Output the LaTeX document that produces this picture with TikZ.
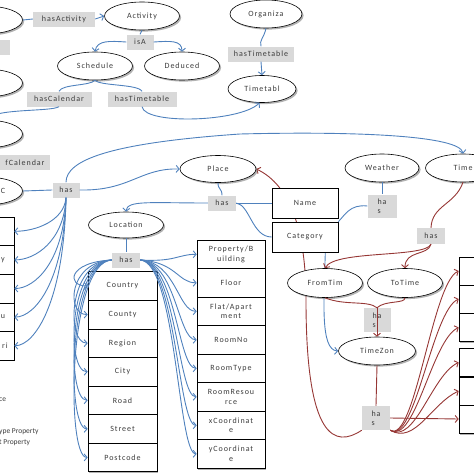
\documentclass[tikz,border=0pt]{standalone}
\usepackage{fontspec}
\setmainfont{Carlito}
\newfontfamily\spacedfont[LetterSpace=12]{Carlito}
\usepackage{tikz}
\usepackage{xcolor}
\usetikzlibrary{arrows.meta,backgrounds,shadows,shapes.geometric}
\definecolor{linkblue}{RGB}{79,129,189}
\definecolor{linkred}{RGB}{150,55,53}
\definecolor{labelgray}{RGB}{217,217,217}
\definecolor{inkgray}{RGB}{60,60,60}

\begin{document}
\begin{tikzpicture}[x=1pt,y=-1pt,font=\spacedfont\fontsize{8}{9.5}\selectfont,
	every node/.style={text=inkgray,align=center},
	class/.style={ellipse,draw,line width=0.6pt,fill=white,minimum width=75,minimum height=28,inner sep=0pt,drop shadow={shadow xshift=1.6pt,shadow yshift=-1.6pt,fill=black!60}},
	field/.style={rectangle,draw,line width=0.6pt,fill=white,minimum width=68,minimum height=28.6,inner sep=0pt,drop shadow={shadow xshift=1.4pt,shadow yshift=-1.4pt,fill=black!60}},
	prop/.style={fill=labelgray,minimum height=15,inner sep=0pt},
	bluelink/.style={draw=linkblue,line width=0.9pt},
	redlink/.style={draw=linkred,line width=0.9pt},
	tip/.style={-{Straight Barb[length=3pt,width=7pt]}}]
	\useasboundingbox (0,0) rectangle (474,474);
	\clip (0,0) rectangle (474,474);

	\node[class] (actor) at (-15,20) {};
	\node[prop,minimum width=60] (cutLabel) at (-20,47) {};
	\node[class] (rule) at (-15,83) {};
	\node[class] (calendar) at (-15,134) {};
	\node[prop,minimum width=50] (ofCalendar) at (25,162.5) {fCalendar};
	\node[class] (cal) at (-15,191) {};
	\node (calText) at (3,191) {C};

	\node[class] (Activity) at (142,16) {Activity};
	\node[prop,minimum width=62] (hasActivity) at (64,19) {hasActivity};
	\node[prop,minimum width=27] (isA) at (140,42) {isA};
	\node[class] (Schedule) at (95,66) {Schedule};
	\node[class] (Deduced) at (182,66) {Deduced};
	\node[prop,minimum width=65] (hasCalendar) at (59,99) {hasCalendar};
	\node[prop,minimum width=69] (hasTimetable) at (142,99) {hasTimetable};
	\node[class,minimum width=72] (Organiza) at (266,14) {Organiza};
	\node[prop,minimum width=66] (orgTimetable) at (261,54) {hasTimetable};
	\node[class,minimum width=68,minimum height=27] (Timetabl) at (262,89) {Timetabl};

	\node[prop,minimum width=27] (leftHas) at (66,190) {has};
	\foreach \i in {1,...,5}
		\node[field,minimum width=74] (lc\i) at (-23,{231.3+(\i-1)*28.6}) {};
	\node (lcTextA) at (3,260) {y};
	\node (lcTextB) at (3,317) {u};
	\node (lcTextC) at (5,346) {ri};

	\node[class,minimum width=76,minimum height=27] (Place) at (218,169) {Place};
	\node[prop,minimum width=28] (placeHas) at (222,203) {has};
	\node[field,minimum width=66,minimum height=30] (Name) at (305,203) {Name};
	\node[field,minimum width=66,minimum height=30] (Category) at (305,237) {Category};
	\node[class,minimum height=26] (Location) at (126,225) {Location};
	\node[prop,minimum width=28] (locHas) at (126,260) {has};
	\foreach \name [count=\i] in {Country,County,Region,City,Road,Street,Postcode}
		\node[field,minimum width=69] (loc\i) at (122.5,{286+(\i-1)*28.57}) {\name};
	\foreach \name [count=\i] in {{Property/B\\uilding},Floor,{Flat/Apart\\ment},RoomNo,RoomType,{RoomResou\\rce},{xCoordinat\\e},{yCoordinat\\e}}
		\node[field] (prop\i) at (231,{254.3+(\i-1)*28.5}) {\name};

	\node[class,minimum width=74] (Weather) at (382,168) {Weather};
	\node[prop,minimum width=29,minimum height=23,align=left] (weatherHas) at (382,206) {ha\\s};
	\node[class] (Time) at (463,168) {Time};
	\node[prop,minimum width=28,minimum height=16] (timeHas) at (431,236) {has};
	\node[class,minimum height=29] (FromTim) at (325,283) {FromTim};
	\node[class,minimum height=29] (ToTime) at (405,283) {ToTime};
	\node[prop,minimum width=27,minimum height=24,align=left] (tzHas) at (377,320) {ha\\s};
	\node[class,minimum width=77] (TimeZon) at (377,351) {TimeZon};
	\node[prop,minimum width=28,minimum height=24,align=left] (zoneHas) at (376,418) {ha\\s};
	\foreach \y [count=\i] in {271,299,327.5,362.5,391,419}
		\node[field,minimum width=74,minimum height=28.3] (rc\i) at (496,\y) {};

	\node[font=\rmfamily\fontsize{7.5}{8}\selectfont,anchor=west,inner sep=0pt] (legendA) at (-1,400) {ce};
	\node[font=\rmfamily\fontsize{7.5}{8}\selectfont,anchor=west,inner sep=0pt] (legendB) at (-1,432) {ype Property};
	\node[font=\rmfamily\fontsize{7.5}{8}\selectfont,anchor=west,inner sep=0pt] (legendC) at (-1,443) {t Property};

	\draw[bluelink] (actor.east) -- (hasActivity.west);
	\draw[bluelink,tip] (hasActivity.east) -- (Activity.west);
	\draw[bluelink] (Activity.south) -- (isA.north);
	\draw[bluelink,tip] (isA.west) .. controls (110,41) and (97,40) .. (Schedule.north);
	\draw[bluelink,tip] (isA.east) .. controls (170,41) and (182,40) .. (Deduced.north);
	\draw[bluelink] (Schedule.south) .. controls (90,86) and (62,84) .. (hasCalendar.north);
	\draw[bluelink] (hasCalendar.south) .. controls (50,112) and (-5,108) .. (calendar.north);
	\draw[bluelink] (Schedule.south) .. controls (100,86) and (138,84) .. (hasTimetable.north);
	\draw[bluelink,tip] (hasTimetable.south) .. controls (145,125) and (240,122) .. (Timetabl.260);
	\draw[bluelink] (Organiza.south) .. controls (264,38) and (259,40) .. (orgTimetable.north);
	\draw[bluelink,tip] (orgTimetable.south) -- (Timetabl.north);

	\draw[bluelink] (cal.east) -- (leftHas.west);
	\draw[bluelink,tip] (leftHas.east) .. controls (130,191) and (140,168) .. (Place.west);
	\draw[bluelink,tip] (leftHas.north) .. controls (66,160) and (110,143) .. (240,134) .. controls (360,131) and (460,136) .. (Time.north);
	\foreach \i in {1,...,5}
		\draw[bluelink,tip] (leftHas.south) .. controls (64,{198+0.7*(33.3+(\i-1)*28.6)}) and (35,{231.3+(\i-1)*28.6}) .. (lc\i.east);

	\draw[bluelink] (Place.south) .. controls (218,190) and (222,188) .. (placeHas.north);
	\draw[bluelink,tip] (placeHas.west) .. controls (150,203) and (127,200) .. (Location.north);
	\draw[bluelink] (placeHas.east) -- (Name.west);
	\draw[bluelink] (placeHas.east) .. controls (250,205) and (252,237) .. (Category.west);
	\draw[bluelink] (Location.south) -- (locHas.north);
	\foreach \i in {1,...,7}
		\draw[bluelink,tip] (locHas.west) .. controls (68,262) and (66,{286+(\i-1)*28.57}) .. (loc\i.west);
	\foreach \i in {1,...,8}
		\draw[bluelink,tip] (locHas.east) .. controls (176,262) and (178,{254.3+(\i-1)*28.5}) .. (prop\i.west);

	\draw[bluelink] (Weather.south) -- (weatherHas.north);
	\draw[bluelink] (weatherHas.west) .. controls (350,204) and (345,215) .. (Category.north east);
	\draw[redlink] (Time.south) .. controls (455,205) and (432,205) .. (timeHas.north);
	\draw[redlink,tip] (timeHas.south) .. controls (425,258) and (335,250) .. (FromTim.north);
	\draw[redlink,tip] (timeHas.south) .. controls (428,256) and (405,250) .. (ToTime.north);
	\draw[redlink] (FromTim.south) .. controls (345,306) and (368,300) .. (tzHas.north);
	\draw[redlink] (ToTime.south) .. controls (405,304) and (385,300) .. (tzHas.north);
	\draw[redlink,tip] (tzHas.north) -- (TimeZon.north);
	\draw[redlink] (TimeZon.south) -- (zoneHas.north);
	\draw[redlink,tip] (zoneHas.east) -- (rc6.west);
	\foreach \y [count=\i] in {271,299,327.5,362.5,391}
		\draw[redlink,tip] (zoneHas.south east) .. controls (415,445) and (432,{\y+12}) .. (rc\i.west);

	\begin{pgfonlayer}{background}
		\draw[redlink,tip] (zoneHas.south west) .. controls (335,448) and (306,440) .. (306,300) .. controls (306,230) and (290,185) .. (Place.east);
		\draw[bluelink,tip] (Category.-37) .. controls (324,300) and (320,350) .. (TimeZon.west);
	\end{pgfonlayer}
\end{tikzpicture}
\end{document}
